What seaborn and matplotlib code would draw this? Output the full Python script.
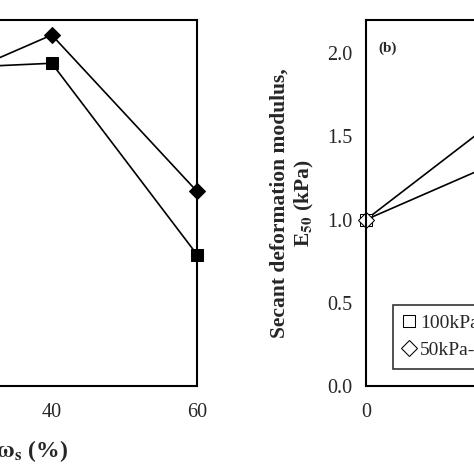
import matplotlib
matplotlib.use("Agg")
import matplotlib.pyplot as plt
import seaborn as sns

sns.set_style("white")
plt.rcParams['font.family'] = ['Liberation Serif', 'DejaVu Serif']
plt.rcParams['mathtext.fontset'] = 'stix'

# panel (a)
a_x = [30, 40, 60]
a_100 = [1.92, 1.94, 0.79]
a_50 = [1.92, 2.11, 1.17]
# panel (b)
b_x = [0, 20]
b_100 = [1.0, 1.67]
b_50 = [1.0, 1.38]
legend_labels = ["100kPa-O", "50kPa-O"]

W = 474.0
fig = plt.figure(figsize=(4.74, 4.74), dpi=100)
axa = fig.add_axes([-275/W, 88/W, 472/W, 366/W])
axb = fig.add_axes([366/W, 88/W, 580/W, 366/W])

lw = 1.2
sns.lineplot(x=a_x, y=a_100, ax=axa, color='k', marker='s', markersize=9, lw=lw, markeredgecolor='k', clip_on=False)
sns.lineplot(x=a_x, y=a_50, ax=axa, color='k', marker='D', markersize=8, lw=lw, markeredgecolor='k', clip_on=False)
sns.lineplot(x=b_x, y=b_100, ax=axb, color='k', marker='s', markersize=9, lw=lw,
             markerfacecolor='white', markeredgecolor='k', label=legend_labels[0], clip_on=False)
sns.lineplot(x=b_x, y=b_50, ax=axb, color='k', marker='D', markersize=8, lw=lw,
             markerfacecolor='white', markeredgecolor='k', label=legend_labels[1], clip_on=False)

for ax in (axa, axb):
    ax.set_ylim(0, 2.2)
    for s in ax.spines.values():
        s.set_linewidth(1.5); s.set_color('k')
    ax.tick_params(direction='in', length=4, width=1, labelsize=14.5, pad=12)
axa.set_xlim(-5, 60)
axa.set_xticks([0, 20, 40, 60])
axa.set_yticks([0, 0.5, 1.0, 1.5, 2.0])
axa.set_yticklabels([])
axb.set_xlim(0, 80)
axb.set_xticks([0, 20, 40, 60])
axb.set_yticks([0, 0.5, 1.0, 1.5, 2.0])
axb.set_yticklabels(['0.0', '0.5', '1.0', '1.5', '2.0'])
axb.tick_params(axis='y', pad=10)
axa.set_xlabel("Sand content, $\\mathbf{\\omega_s}$ (%)", fontsize=17, fontweight='bold', labelpad=12)
axb.set_ylabel("Secant deformation modulus,\nE$_{\\mathbf{50}}$ (kPa)", fontsize=15.5, fontweight='bold', labelpad=8)
axb.text(0.022, 0.94, "(b)", transform=axb.transAxes, fontsize=11, fontweight='bold', va='top')
leg = axb.legend(loc='lower left', bbox_to_anchor=(0.03, 0.02), fontsize=14, frameon=True,
                 fancybox=False, edgecolor='k', handlelength=0.6, handletextpad=0.3, borderpad=0.5)
leg.get_frame().set_linewidth(1.2)
for h in leg.legend_handles:
    h.set_linestyle('None')

fig.savefig("out.png", dpi=100)
